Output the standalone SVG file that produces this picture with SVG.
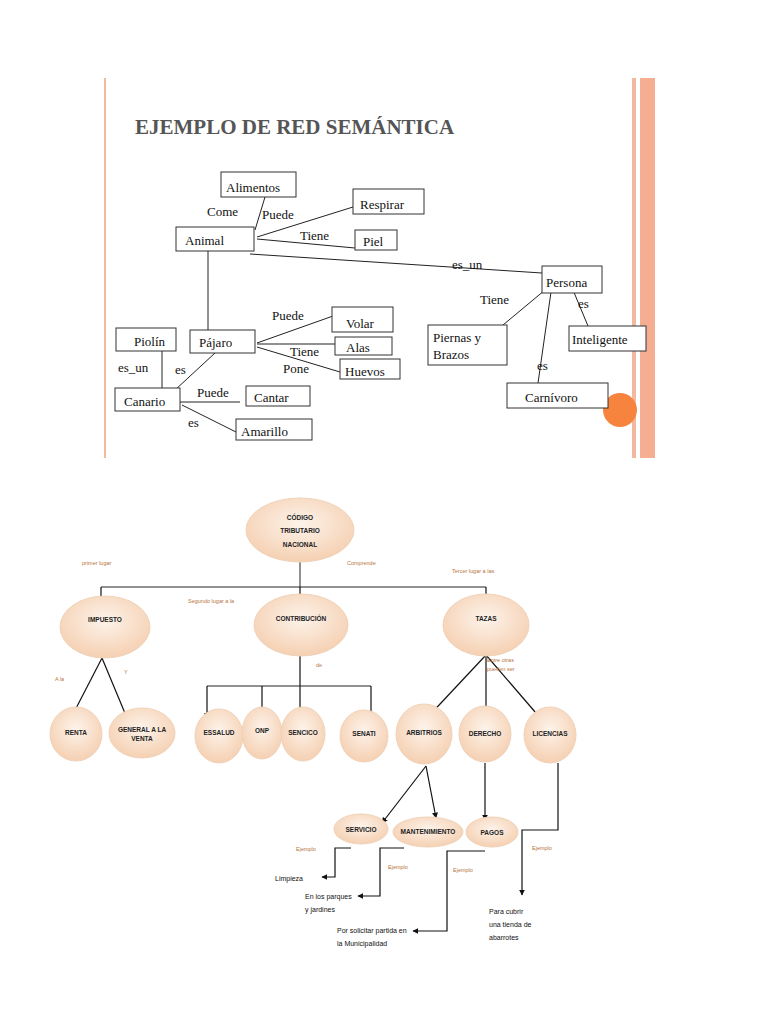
<svg xmlns="http://www.w3.org/2000/svg" width="768" height="1024" viewBox="0 0 768 1024">
<style>
.bx{fill:#fff;stroke:#333;stroke-width:1}
.ln{stroke:#222;stroke-width:1;fill:none}
.t{font-family:"Liberation Serif",serif;font-size:13px;fill:#111}
.el{fill:url(#g);stroke:#f0d2b8;stroke-width:1}
.et{font-family:"Liberation Sans",sans-serif;font-size:6.5px;font-weight:bold;fill:#222;text-anchor:middle}
.ol{font-family:"Liberation Sans",sans-serif;font-size:5.5px;fill:#b8743c}
.bt{font-family:"Liberation Sans",sans-serif;font-size:7px;fill:#111}
.ar{stroke:#111;stroke-width:1.2;fill:none;marker-end:url(#a)}
</style>
<defs>
<radialGradient id="g" cx="50%" cy="40%" r="60%"><stop offset="0" stop-color="#fdf3ea"/><stop offset="1" stop-color="#f5d0b2"/></radialGradient>
<marker id="a" viewBox="0 0 10 10" refX="9" refY="5" markerWidth="5" markerHeight="5" orient="auto"><path d="M0,0L10,5L0,10z" fill="#111"/></marker>
</defs>
<rect width="768" height="1024" fill="#fff"/>
<g id="slide">
<line x1="105" y1="78" x2="105" y2="458" stroke="#f4b8a0" stroke-width="2"/>
<rect x="632" y="78" width="4" height="380" fill="#f4b8a0"/>
<rect x="640" y="78" width="15" height="380" fill="#f5ae92"/>
<text x="135" y="134" font-family="Liberation Serif,serif" font-size="21" font-weight="bold" fill="#555">EJEMPLO DE RED SEMÁNTICA</text>
<circle cx="620" cy="410" r="17" fill="#f7843e"/>
</g>
<g id="connectors-top" class="ln">
<line x1="265" y1="197" x2="255" y2="230"/>
<line x1="257" y1="237" x2="353" y2="207"/>
<line x1="257" y1="239" x2="355" y2="248"/>
<line x1="250" y1="254" x2="542" y2="273"/>
<line x1="208" y1="251" x2="208" y2="330"/>
<line x1="257" y1="343" x2="333" y2="316"/>
<line x1="257" y1="344" x2="336" y2="344"/>
<line x1="257" y1="347" x2="340" y2="372"/>
<line x1="215" y1="353" x2="175" y2="390"/>
<line x1="162" y1="351" x2="162" y2="388"/>
<line x1="180" y1="402" x2="240" y2="402"/>
<line x1="182" y1="405" x2="236" y2="432"/>
<line x1="545" y1="290" x2="503" y2="325"/>
<line x1="551" y1="292" x2="538" y2="383"/>
<line x1="573" y1="290" x2="588" y2="326"/>
</g>
<g class="t">
<text x="207" y="216">Come</text><text x="262" y="219">Puede</text><text x="300" y="240">Tiene</text>
<text x="452" y="269">es_un</text><text x="272" y="320">Puede</text><text x="290" y="356">Tiene</text>
<text x="283" y="373">Pone</text><text x="175" y="374">es</text><text x="118" y="372">es_un</text>
<text x="197" y="397">Puede</text><text x="188" y="427">es</text><text x="480" y="304">Tiene</text>
<text x="537" y="370">es</text><text x="578" y="308">es</text>
</g>
<g id="n-alimentos"><rect class="bx" x="221" y="172" width="75" height="25"/><text class="t" x="226" y="192">Alimentos</text></g>
<g id="n-respirar"><rect class="bx" x="353" y="189" width="71" height="25"/><text class="t" x="360" y="209">Respirar</text></g>
<g id="n-animal"><rect class="bx" x="176" y="227" width="78" height="24"/><text class="t" x="185" y="245">Animal</text></g>
<g id="n-piel"><rect class="bx" x="355" y="230" width="42" height="20"/><text class="t" x="363" y="246">Piel</text></g>
<g id="n-persona"><rect class="bx" x="542" y="266" width="60" height="27"/><text class="t" x="546" y="287">Persona</text></g>
<g id="n-volar"><rect class="bx" x="332" y="307" width="61" height="25"/><text class="t" x="346" y="328">Volar</text></g>
<g id="n-alas"><rect class="bx" x="335" y="337" width="57" height="18"/><text class="t" x="346" y="352">Alas</text></g>
<g id="n-huevos"><rect class="bx" x="340" y="359" width="60" height="20"/><text class="t" x="345" y="376">Huevos</text></g>
<g id="n-pajaro"><rect class="bx" x="190" y="330" width="65" height="23"/><text class="t" x="199" y="347">Pájaro</text></g>
<g id="n-piolin"><rect class="bx" x="116" y="328" width="60" height="23"/><text class="t" x="134" y="346">Piolín</text></g>
<g id="n-canario"><rect class="bx" x="115" y="388" width="65" height="23"/><text class="t" x="124" y="406">Canario</text></g>
<g id="n-cantar"><rect class="bx" x="246" y="386" width="64" height="20"/><text class="t" x="254" y="402">Cantar</text></g>
<g id="n-amarillo"><rect class="bx" x="236" y="419" width="76" height="21"/><text class="t" x="241" y="436">Amarillo</text></g>
<g id="n-piernas"><rect class="bx" x="428" y="325" width="79" height="40"/><text class="t" x="433" y="342">Piernas y</text><text class="t" x="433" y="359">Brazos</text></g>
<g id="n-inteligente"><rect class="bx" x="569" y="326" width="77" height="25"/><text class="t" x="572" y="344">Inteligente</text></g>
<g id="n-carnivoro"><rect class="bx" x="507" y="383" width="101" height="25"/><text class="t" x="525" y="402">Carnívoro</text></g>

<g id="connectors-bottom">
<path class="ln" d="M300,562V587M101,587H486"/>
<path class="ar" d="M101,587V603"/><path class="ar" d="M300,587V601"/><path class="ar" d="M486,587V603"/>
<path class="ar" d="M102,658L71,718"/><path class="ar" d="M102,658L127,718"/>
<path class="ar" d="M300,655V720"/><path class="ln" d="M207,686H371"/>
<path class="ar" d="M207,686V718"/><path class="ar" d="M262,686V718"/><path class="ar" d="M371,686V718"/>
<path class="ar" d="M486,655L425,720"/><path class="ar" d="M486,655V720"/><path class="ar" d="M486,655L542,720"/>
<path class="ar" d="M426,766L382,823"/><path class="ar" d="M426,766L436,818"/>
<path class="ar" d="M485,763V820"/>
<path class="ar" d="M558,763V830H522V895"/>
<path class="ar" d="M351,848H335V877H322"/>
<path class="ar" d="M404,848H380V896H358"/>
<path class="ar" d="M485,851H447V931H413"/>
</g>
<g class="ol">
<text x="82" y="565">primer lugar</text><text x="347" y="565">Comprende</text><text x="452" y="573">Tercer lugar a las</text>
<text x="188" y="603">Segundo lugar a la</text><text x="55" y="681">A la</text><text x="124" y="674">Y</text>
<text x="316" y="667">de</text><text x="487" y="662">Entre otras</text><text x="487" y="671">pueden ser</text>
<text x="296" y="851">Ejemplo</text><text x="388" y="869">Ejemplo</text><text x="453" y="872">Ejemplo</text><text x="532" y="850">Ejemplo</text>
</g>
<g id="e-codigo"><ellipse class="el" cx="300" cy="530" rx="54" ry="32"/><text class="et" x="300" y="520">CÓDIGO</text><text class="et" x="300" y="533">TRIBUTARIO</text><text class="et" x="300" y="547">NACIONAL</text></g>
<g id="e-impuesto"><ellipse class="el" cx="105" cy="627" rx="45" ry="31"/><text class="et" x="105" y="622">IMPUESTO</text></g>
<g id="e-contribucion"><ellipse class="el" cx="301" cy="625" rx="47" ry="31"/><text class="et" x="301" y="621">CONTRIBUCIÓN</text></g>
<g id="e-tazas"><ellipse class="el" cx="486" cy="625" rx="43" ry="31"/><text class="et" x="486" y="621">TAZAS</text></g>
<g id="e-renta"><ellipse class="el" cx="76" cy="734" rx="26" ry="27"/><text class="et" x="76" y="735">RENTA</text></g>
<g id="e-general"><ellipse class="el" cx="142" cy="733" rx="33" ry="25"/><text class="et" x="142" y="732">GENERAL A LA</text><text class="et" x="142" y="741">VENTA</text></g>
<g id="e-essalud"><ellipse class="el" cx="219" cy="736" rx="24" ry="27"/><text class="et" x="219" y="735">ESSALUD</text></g>
<g id="e-onp"><ellipse class="el" cx="262" cy="733" rx="20" ry="26"/><text class="et" x="262" y="733">ONP</text></g>
<g id="e-sencico"><ellipse class="el" cx="303" cy="734" rx="22" ry="27"/><text class="et" x="303" y="735">SENCICO</text></g>
<g id="e-senati"><ellipse class="el" cx="364" cy="736" rx="24" ry="26"/><text class="et" x="364" y="736">SENATI</text></g>
<g id="e-arbitrios"><ellipse class="el" cx="424" cy="734" rx="28" ry="30"/><text class="et" x="424" y="735">ARBITRIOS</text></g>
<g id="e-derecho"><ellipse class="el" cx="485" cy="734" rx="26" ry="28"/><text class="et" x="485" y="736">DERECHO</text></g>
<g id="e-licencias"><ellipse class="el" cx="550" cy="735" rx="26" ry="28"/><text class="et" x="550" y="736">LICENCIAS</text></g>
<g id="e-servicio"><ellipse class="el" cx="361" cy="829" rx="27" ry="15"/><text class="et" x="361" y="832" font-size="5">SERVICIO</text></g>
<g id="e-mantenimiento"><ellipse class="el" cx="428" cy="832" rx="35" ry="15"/><text class="et" x="428" y="834" font-size="5">MANTENIMIENTO</text></g>
<g id="e-pagos"><ellipse class="el" cx="492" cy="832" rx="26" ry="15"/><text class="et" x="492" y="835" font-size="5.5">PAGOS</text></g>
<g class="bt">
<text x="275" y="881">Limpieza</text>
<text x="305" y="899">En los parques</text><text x="305" y="912">y jardines</text>
<text x="337" y="933">Por solicitar partida en</text><text x="337" y="946">la Municipalidad</text>
<text x="489" y="914">Para cubrir</text><text x="489" y="927">una tienda de</text><text x="489" y="940">abarrotes</text>
</g>
</svg>
